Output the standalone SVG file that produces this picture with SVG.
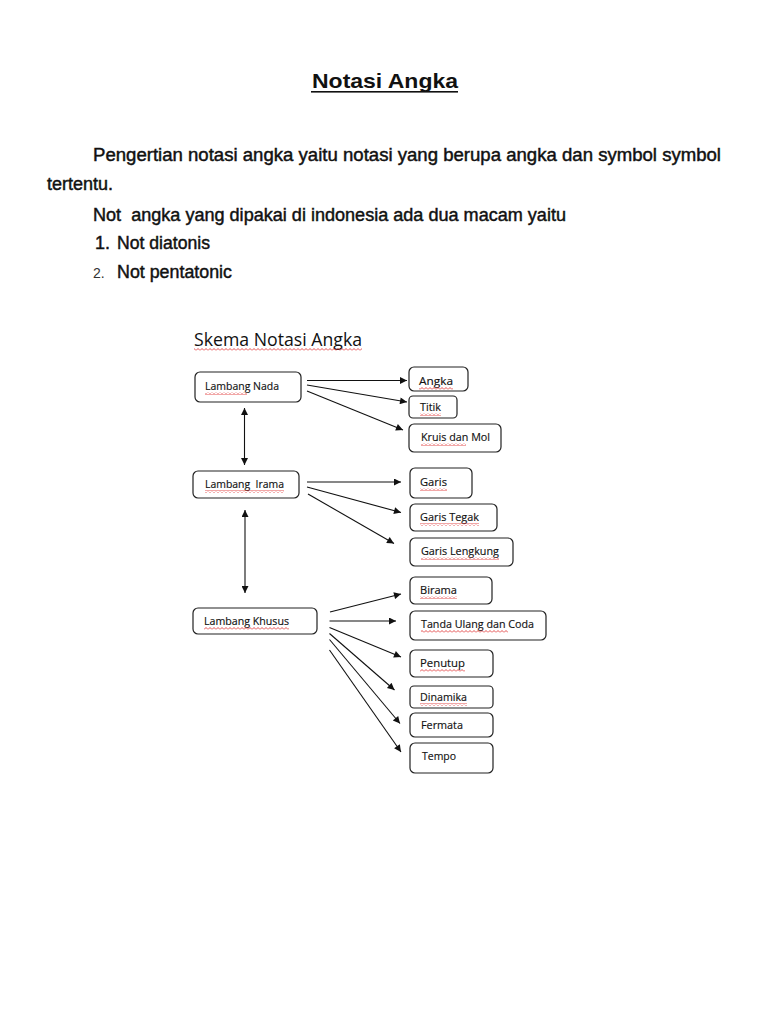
<svg xmlns="http://www.w3.org/2000/svg" width="768" height="1024" viewBox="0 0 768 1024">
<style>
.body{font-family:"Liberation Sans",Arial,sans-serif;font-size:18px;fill:#111;stroke:#111;stroke-width:0.45}
.title{font-family:"Liberation Sans",Arial,sans-serif;font-size:21px;font-weight:bold;fill:#111}
.sk{font-family:"Open Sans","Noto Sans",sans-serif;font-size:18px;fill:#111}
.lbl{font-family:"Open Sans","Noto Sans",sans-serif;font-size:11px;fill:#111;stroke:#111;stroke-width:0.15}
.box{fill:#fff;stroke:#222;stroke-width:1.2}
.con{stroke:#111;stroke-width:1.1;fill:none}
.sq{fill:url(#sq)}
</style>
<defs>
<marker id="ah" viewBox="0 0 10 10" refX="10" refY="5" markerWidth="9" markerHeight="7" markerUnits="userSpaceOnUse" orient="auto">
<path d="M0,0 L10,5 L0,10 z" fill="#111"/>
</marker>
<marker id="as" viewBox="0 0 10 10" refX="0" refY="5" markerWidth="9" markerHeight="7" markerUnits="userSpaceOnUse" orient="auto">
<path d="M10,0 L0,5 L10,10 z" fill="#111"/>
</marker>
<pattern id="sq" width="4" height="3" patternUnits="userSpaceOnUse">
<path d="M0,2.5 L2,0.5 L4,2.5" stroke="#d22" stroke-width="0.8" fill="none"/>
</pattern>
</defs>
<rect width="768" height="1024" fill="#fff"/>

<g id="text">
<text class="title" x="312" y="88" textLength="146" lengthAdjust="spacingAndGlyphs">Notasi Angka</text>
<rect x="311" y="91" width="147" height="1.6" fill="#111"/>
<text class="body" x="93" y="161" textLength="628" lengthAdjust="spacingAndGlyphs">Pengertian notasi angka yaitu notasi yang berupa angka dan symbol symbol</text>
<text class="body" x="47" y="190" textLength="66" lengthAdjust="spacingAndGlyphs">tertentu.</text>
<text class="body" x="93" y="221" textLength="473" lengthAdjust="spacingAndGlyphs" xml:space="preserve">Not  angka yang dipakai di indonesia ada dua macam yaitu</text>
<text class="body" x="95" y="249">1.</text>
<text class="body" x="117" y="249" textLength="93" lengthAdjust="spacingAndGlyphs">Not diatonis</text>
<text x="93" y="278" font-family="Liberation Sans,Arial,sans-serif" font-size="14px" fill="#333">2.</text>
<text class="body" x="117" y="278" textLength="115" lengthAdjust="spacingAndGlyphs">Not pentatonic</text>
<text class="sk" x="194" y="346" textLength="168" lengthAdjust="spacingAndGlyphs">Skema Notasi Angka</text>
<rect class="sq" x="194" y="348" width="168" height="3"/>
</g>

<g id="connectors">
<line class="con" x1="307" y1="380.5" x2="407" y2="380.5" marker-end="url(#ah)"/>
<line class="con" x1="307" y1="385" x2="407" y2="402" marker-end="url(#ah)"/>
<line class="con" x1="307" y1="391" x2="403" y2="430" marker-end="url(#ah)"/>
<line class="con" x1="244.5" y1="408" x2="244.5" y2="465" marker-start="url(#as)" marker-end="url(#ah)"/>
<line class="con" x1="307" y1="482" x2="401" y2="482" marker-end="url(#ah)"/>
<line class="con" x1="307" y1="487" x2="401" y2="512.5" marker-end="url(#ah)"/>
<line class="con" x1="308" y1="494" x2="394" y2="543.5" marker-end="url(#ah)"/>
<line class="con" x1="245" y1="510" x2="245" y2="593" marker-start="url(#as)" marker-end="url(#ah)"/>
<line class="con" x1="330" y1="612" x2="401" y2="594" marker-end="url(#ah)"/>
<line class="con" x1="329.5" y1="621" x2="396" y2="621" marker-end="url(#ah)"/>
<line class="con" x1="329.5" y1="627.5" x2="401" y2="657" marker-end="url(#ah)"/>
<line class="con" x1="329.5" y1="633.5" x2="394.5" y2="690" marker-end="url(#ah)"/>
<line class="con" x1="329.5" y1="639.5" x2="400" y2="723.5" marker-end="url(#ah)"/>
<line class="con" x1="329.5" y1="650" x2="401" y2="752" marker-end="url(#ah)"/>
</g>

<g id="lambang-nada">
<rect class="box" x="195" y="372" width="106" height="30" rx="5"/>
<text class="lbl" x="205" y="390" textLength="74" lengthAdjust="spacingAndGlyphs">Lambang Nada</text>
<rect class="sq" x="205" y="392" width="42" height="3"/>
</g>
<g id="angka">
<rect class="box" x="409" y="367" width="59" height="24" rx="5"/>
<text class="lbl" x="419" y="385" textLength="34" lengthAdjust="spacingAndGlyphs">Angka</text>
<rect class="sq" x="419" y="387" width="34" height="3"/>
</g>
<g id="titik">
<rect class="box" x="409" y="396" width="48" height="22" rx="4"/>
<text class="lbl" x="420" y="411" textLength="21" lengthAdjust="spacingAndGlyphs">Titik</text>
<rect class="sq" x="420" y="413" width="21" height="3"/>
</g>
<g id="kruis-dan-mol">
<rect class="box" x="409" y="424" width="92" height="28" rx="5"/>
<text class="lbl" x="421" y="441" textLength="69" lengthAdjust="spacingAndGlyphs">Kruis dan Mol</text>
<rect class="sq" x="421" y="443" width="45" height="3"/>
</g>

<g id="lambang-irama">
<rect class="box" x="193" y="471" width="106" height="27" rx="5"/>
<text class="lbl" x="205" y="488" textLength="79" lengthAdjust="spacingAndGlyphs" xml:space="preserve">Lambang  Irama</text>
<rect class="sq" x="205" y="490" width="79" height="3"/>
</g>
<g id="garis">
<rect class="box" x="410" y="468" width="62" height="30" rx="5"/>
<text class="lbl" x="420" y="486" textLength="27" lengthAdjust="spacingAndGlyphs">Garis</text>
<rect class="sq" x="420" y="488" width="27" height="3"/>
</g>
<g id="garis-tegak">
<rect class="box" x="410" y="504" width="87" height="27" rx="5"/>
<text class="lbl" x="420" y="521" textLength="59" lengthAdjust="spacingAndGlyphs">Garis Tegak</text>
<rect class="sq" x="420" y="523" width="59" height="3"/>
</g>
<g id="garis-lengkung">
<rect class="box" x="410" y="538" width="103" height="28" rx="5"/>
<text class="lbl" x="421" y="555" textLength="78" lengthAdjust="spacingAndGlyphs">Garis Lengkung</text>
<rect class="sq" x="421" y="557" width="78" height="3"/>
</g>

<g id="lambang-khusus">
<rect class="box" x="193" y="608" width="124" height="26" rx="5"/>
<text class="lbl" x="204" y="625" textLength="85" lengthAdjust="spacingAndGlyphs">Lambang Khusus</text>
<rect class="sq" x="204" y="627" width="85" height="3"/>
</g>
<g id="birama">
<rect class="box" x="410" y="577" width="82" height="27" rx="5"/>
<text class="lbl" x="420" y="594" textLength="37" lengthAdjust="spacingAndGlyphs">Birama</text>
<rect class="sq" x="420" y="596" width="37" height="3"/>
</g>
<g id="tanda-ulang-dan-coda">
<rect class="box" x="410" y="611" width="136" height="29" rx="5"/>
<text class="lbl" x="421" y="628" textLength="113" lengthAdjust="spacingAndGlyphs">Tanda Ulang dan Coda</text>
<rect class="sq" x="421" y="630" width="87" height="3"/>
</g>
<g id="penutup">
<rect class="box" x="410" y="650" width="83" height="27" rx="5"/>
<text class="lbl" x="420" y="667" textLength="45" lengthAdjust="spacingAndGlyphs">Penutup</text>
<rect class="sq" x="420" y="669" width="45" height="3"/>
</g>
<g id="dinamika">
<rect class="box" x="410" y="686" width="83" height="22" rx="4"/>
<text class="lbl" x="420" y="701" textLength="47" lengthAdjust="spacingAndGlyphs">Dinamika</text>
<rect class="sq" x="420" y="703" width="47" height="3"/>
</g>
<g id="fermata">
<rect class="box" x="410" y="713" width="83" height="24" rx="5"/>
<text class="lbl" x="421" y="729" textLength="42" lengthAdjust="spacingAndGlyphs">Fermata</text>
</g>
<g id="tempo">
<rect class="box" x="410" y="743" width="83" height="30" rx="5"/>
<text class="lbl" x="422" y="760" textLength="34" lengthAdjust="spacingAndGlyphs">Tempo</text>
</g>
</svg>
